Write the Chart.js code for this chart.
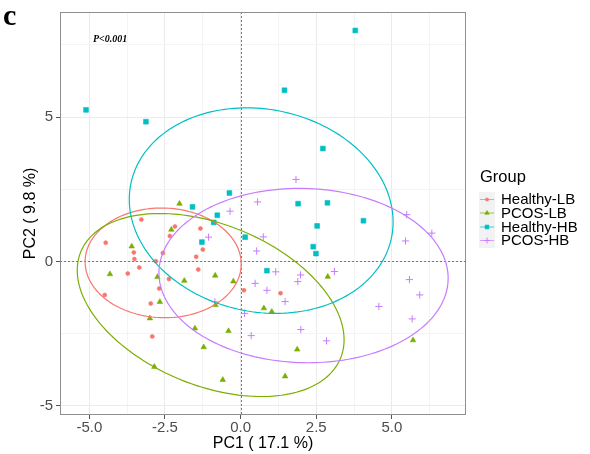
<!DOCTYPE html>
<html>
<head>
<meta charset="utf-8">
<script src="https://cdn.jsdelivr.net/npm/chart.js@4"></script>
<style>
  html, body { margin: 0; padding: 0; background: #fff; }
  #wrap { width: 590px; height: 454px; position: relative; }
</style>
</head>
<body>
<div id="wrap"><canvas id="pca"></canvas></div>
<script>
// groups
const groups = ['Healthy-LB', 'PCOS-LB', 'Healthy-HB', 'PCOS-HB'];
const colors = ['#F8766D', '#7CAE00', '#00BFC4', '#C77CFF'];
const shapes = ['circle', 'triangle', 'rect', 'cross'];

// PC scores
const healthyLbX = [-3.28, -4.46, -3.53, -3.51, -3.35, -3.73, -4.49, -2.17, -2.34, -2.57, -2.80, -2.37, -2.69, -2.97, -1.33, -1.25, -1.47, -1.40, 0.11, -2.92, 1.32];
const healthyLbY = [1.45, 0.65, 0.31, 0.08, -0.21, -0.42, -1.16, 1.21, 0.88, 0.29, 0.01, -0.61, -0.94, -1.46, 1.14, 0.41, 0.16, -0.28, -1.00, -2.60, -1.10];

const pcosLbX = [-2.02, -2.29, -3.60, -4.32, -2.75, -1.86, -0.84, -0.24, -2.67, -0.83, -3.00, -1.51, -0.40, -1.22, -2.85, -0.59, 2.88, 0.77, 1.03, 1.87, 1.47, 5.70];
const pcosLbY = [2.00, 1.10, 0.52, -0.44, -0.54, -0.67, -0.49, -0.69, -1.40, -1.51, -1.97, -2.32, -2.41, -2.97, -3.65, -4.10, -0.53, -1.62, -1.74, -3.05, -3.98, -2.73];

const healthyHbX = [-5.11, -3.13, 1.45, 3.79, 2.72, 1.90, 2.87, 4.06, 2.53, 2.40, 2.49, 0.15, 0.87, -0.37, -1.59, -0.77, -0.89, -1.28];
const healthyHbY = [5.25, 4.84, 5.93, 8.00, 3.91, 2.00, 2.03, 1.41, 1.23, 0.51, 0.27, 0.84, -0.32, 2.37, 1.89, 1.60, 1.35, 0.67];

const pcosHbX = [1.83, 0.56, -0.35, 0.75, 0.53, 1.16, 1.98, 3.10, 1.89, 0.48, 0.87, 5.49, 6.32, 5.45, 5.58, 1.47, 0.13, 0.35, 1.99, 2.84, 4.57, 5.92, 5.67, -1.06, -0.85];
const pcosHbY = [2.84, 2.06, 1.74, 0.85, 0.36, -0.36, -0.47, -0.35, -0.70, -0.76, -1.00, 1.62, 0.98, 0.71, -0.63, -1.39, -1.80, -2.57, -2.36, -2.75, -1.56, -1.16, -1.99, 0.84, -1.40];

// confidence ellipses: centre, half extent on x / y, correlation
const ellCx = [-2.56, -0.99, 0.68, 2.08];
const ellCy = [-0.05, -1.51, 1.76, -0.49];
const ellHx = [2.58, 4.41, 4.36, 4.78];
const ellHy = [1.90, 3.17, 3.56, 3.02];
const ellR = [-0.02, -0.38, -0.11, -0.03];

// axes
const xMajor = [-5, -2.5, 0, 2.5, 5];
const xLabels = ['-5.0', '-2.5', '0.0', '2.5', '5.0'];
const xMinor = [-3.75, -1.25, 1.25, 3.75, 6.25];
const yMajor = [-5, 0, 5];
const yLabels = ['-5', '0', '5'];
const yMinor = [-2.5, 2.5, 7.5];

const allX = [healthyLbX, pcosLbX, healthyHbX, pcosHbX];
const allY = [healthyLbY, pcosLbY, healthyHbY, pcosHbY];
const pointSize = [2, 3.2, 3.4, 3.6];

const datasets = groups.map((g, i) => ({
  label: g,
  data: allX[i].map((x, k) => ({ x: x, y: allY[i][k] })),
  pointStyle: shapes[i],
  pointRadius: pointSize[i],
  pointHoverRadius: pointSize[i],
  backgroundColor: colors[i],
  borderColor: colors[i],
  pointBorderWidth: i === 3 ? 1 : 0.6,
}));

const sansFont = "'Liberation Sans', Arial, sans-serif";
const serifFont = "'Liberation Serif', 'Times New Roman', serif";

const isMajor = (list, v) => list.some(m => Math.abs(m - v) < 1e-9);

const extras = {
  id: 'extras',
  beforeDatasetsDraw(chart) {
    const { ctx, chartArea: a, scales: { x, y } } = chart;
    ctx.save();
    ctx.strokeStyle = '#7a7a7a';
    ctx.lineWidth = 1;
    ctx.setLineDash([2, 2]);
    const x0 = Math.round(x.getPixelForValue(0)) + 0.5;
    const y0 = Math.round(y.getPixelForValue(0)) + 0.5;
    ctx.beginPath();
    ctx.moveTo(x0, a.top); ctx.lineTo(x0, a.bottom);
    ctx.moveTo(a.left, y0); ctx.lineTo(a.right, y0);
    ctx.stroke();
    ctx.restore();
  },
  afterDatasetsDraw(chart) {
    const { ctx, chartArea: a, scales: { x, y } } = chart;
    ctx.save();
    ctx.beginPath();
    ctx.rect(a.left, a.top, a.right - a.left, a.bottom - a.top);
    ctx.clip();
    ctx.lineWidth = 1.2;
    for (let i = 0; i < groups.length; i++) {
      const s = Math.sqrt(1 - ellR[i] * ellR[i]);
      ctx.strokeStyle = colors[i];
      ctx.beginPath();
      for (let k = 0; k <= 180; k++) {
        const t = k / 180 * Math.PI * 2;
        const vx = ellCx[i] + ellHx[i] * Math.cos(t);
        const vy = ellCy[i] + ellHy[i] * (ellR[i] * Math.cos(t) + s * Math.sin(t));
        const px = x.getPixelForValue(vx), py = y.getPixelForValue(vy);
        if (k === 0) ctx.moveTo(px, py); else ctx.lineTo(px, py);
      }
      ctx.closePath();
      ctx.stroke();
    }
    ctx.restore();

    // panel border
    ctx.save();
    ctx.strokeStyle = '#8f8f8f';
    ctx.lineWidth = 1;
    ctx.strokeRect(a.left + 0.5, a.top + 0.5, a.right - a.left - 1, a.bottom - a.top - 1);

    // panel tag and p value
    ctx.fillStyle = '#000';
    ctx.textBaseline = 'alphabetic';
    ctx.font = 'bold 30px ' + serifFont;
    ctx.fillText('c', 3, 25);
    ctx.font = 'italic bold 10px ' + serifFont;
    ctx.fillText('P<0.001', 93, 42);

    // legend
    ctx.textBaseline = 'middle';
    ctx.font = '16.5px ' + sansFont;
    ctx.fillText('Group', 480, 177);
    ctx.fillStyle = '#f2f2f2';
    ctx.fillRect(479, 192, 16, 56);
    const rowY = [199.5, 213, 227, 240.5];
    groups.forEach((g, i) => {
      ctx.strokeStyle = colors[i];
      ctx.fillStyle = colors[i];
      ctx.lineWidth = 1;
      ctx.globalAlpha = 0.7;
      ctx.beginPath();
      ctx.moveTo(480, rowY[i]); ctx.lineTo(494, rowY[i]);
      ctx.stroke();
      ctx.globalAlpha = 1;
      ctx.lineWidth = i === 3 ? 1 : 0.6;
      Chart.helpers.drawPoint(ctx, {
        pointStyle: shapes[i], radius: pointSize[i] * 0.8, rotation: 0,
        borderWidth: i === 3 ? 1 : 0.6
      }, 487, rowY[i]);
      ctx.fillStyle = '#000';
      ctx.font = '15px ' + sansFont;
      ctx.fillText(g, 501, rowY[i] + 0.5);
    });
    ctx.restore();
  }
};

new Chart(document.getElementById('pca'), {
  type: 'scatter',
  data: { datasets },
  options: {
    responsive: true,
    maintainAspectRatio: false,
    animation: false,
    layout: { padding: { left: 0, right: 124, top: 3, bottom: 0 } },
    plugins: { legend: { display: false }, tooltip: { enabled: false } },
    scales: {
      x: {
        type: 'linear',
        min: -5.97,
        max: 7.45,
        afterBuildTicks: s => { s.ticks = xMajor.concat(xMinor).sort((p, q) => p - q).map(v => ({ value: v })); },
        afterFit: s => { s.height = 39; },
        ticks: {
          autoSkip: false,
          maxRotation: 0,
          padding: 0,
          color: '#4d4d4d',
          font: { family: sansFont, size: 15 },
          callback: v => { const k = xMajor.findIndex(m => Math.abs(m - v) < 1e-9); return k >= 0 ? xLabels[k] : ''; }
        },
        grid: {
          color: c => isMajor(xMajor, c.tick.value) ? '#ebebeb' : '#f4f4f4',
          tickColor: c => isMajor(xMajor, c.tick.value) ? '#555' : 'rgba(0,0,0,0)',
          tickLength: 4,
          lineWidth: 1
        },
        border: { display: false },
        title: {
          display: true,
          text: 'PC1 ( 17.1 %)',
          color: '#000',
          font: { family: sansFont, size: 16 },
          padding: { top: 0, bottom: 0.8 }
        }
      },
      y: {
        type: 'linear',
        min: -5.32,
        max: 8.64,
        afterBuildTicks: s => { s.ticks = yMajor.concat(yMinor).sort((p, q) => p - q).map(v => ({ value: v })); },
        afterFit: s => { s.width = 60; },
        ticks: {
          autoSkip: false,
          padding: 3,
          color: '#4d4d4d',
          font: { family: sansFont, size: 15 },
          callback: v => { const k = yMajor.findIndex(m => Math.abs(m - v) < 1e-9); return k >= 0 ? yLabels[k] : ''; }
        },
        grid: {
          color: c => isMajor(yMajor, c.tick.value) ? '#ebebeb' : '#f4f4f4',
          tickColor: c => isMajor(yMajor, c.tick.value) ? '#555' : 'rgba(0,0,0,0)',
          tickLength: 4,
          lineWidth: 1
        },
        border: { display: false },
        title: {
          display: true,
          text: 'PC2 ( 9.8 %)',
          color: '#000',
          font: { family: sansFont, size: 16 },
          padding: { top: 21.4, bottom: 0 }
        }
      }
    }
  },
  plugins: [extras]
});
</script>
</body>
</html>
